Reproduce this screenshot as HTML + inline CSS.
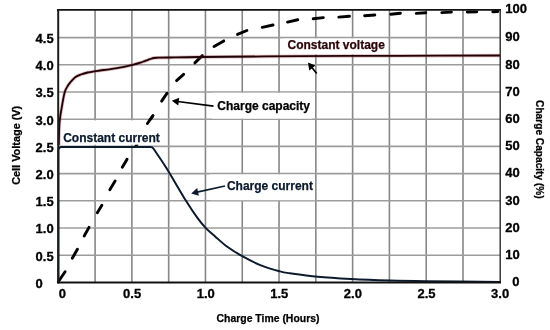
<!DOCTYPE html>
<html><head><meta charset="utf-8"><title>Charge characteristics</title>
<style>
html,body{margin:0;padding:0;background:#fff;width:550px;height:330px;overflow:hidden}
svg{display:block}
text{font-family:"Liberation Sans",Arial,sans-serif;font-weight:bold}
.ann{font-size:12px}
.tick text{font-size:13px;fill:#000;stroke:#000;stroke-width:0.3px}
.title{font-size:10.6px;fill:#000;stroke:#000;stroke-width:0.25px}
</style></head><body>
<svg width="550" height="330" viewBox="0 0 550 330"><g stroke="#878787" stroke-width="1.6" fill="none"><line x1="95.09" y1="10" x2="95.09" y2="282" /><line x1="131.88" y1="10" x2="131.88" y2="282" /><line x1="168.67" y1="10" x2="168.67" y2="282" /><line x1="205.46" y1="10" x2="205.46" y2="282" /><line x1="242.25" y1="10" x2="242.25" y2="282" /><line x1="279.04" y1="10" x2="279.04" y2="282" /><line x1="315.83" y1="10" x2="315.83" y2="282" /><line x1="352.62" y1="10" x2="352.62" y2="282" /><line x1="389.41" y1="10" x2="389.41" y2="282" /><line x1="426.20" y1="10" x2="426.20" y2="282" /><line x1="462.99" y1="10" x2="462.99" y2="282" /><line x1="58" y1="255.20" x2="500" y2="255.20" stroke="#9c9c9c" /><line x1="58" y1="228.00" x2="500" y2="228.00" stroke="#9c9c9c" /><line x1="58" y1="200.80" x2="500" y2="200.80" stroke="#9c9c9c" /><line x1="58" y1="173.60" x2="500" y2="173.60" stroke="#9c9c9c" /><line x1="58" y1="146.40" x2="500" y2="146.40" stroke="#9c9c9c" /><line x1="58" y1="119.20" x2="500" y2="119.20" stroke="#9c9c9c" /><line x1="58" y1="92.00" x2="500" y2="92.00" stroke="#9c9c9c" /><line x1="58" y1="64.80" x2="500" y2="64.80" stroke="#9c9c9c" /><line x1="58" y1="37.60" x2="500" y2="37.60" stroke="#9c9c9c" /></g>
<g stroke="#000" stroke-width="2.9" stroke-linecap="round"><line x1="58.3" y1="281.7" x2="65.10" y2="271.80" /><line x1="72.30" y1="258.16" x2="77.40" y2="249.34" /><line x1="84.19" y1="235.95" x2="89.01" y2="227.35" /><line x1="97.33" y1="212.68" x2="101.87" y2="205.22" /><line x1="109.82" y1="189.77" x2="115.08" y2="181.03" /><line x1="122.32" y1="167.27" x2="127.08" y2="159.33" /><line x1="135.82" y1="146.17" x2="140.38" y2="138.53" /><line x1="147.40" y1="123.52" x2="152.90" y2="115.78" /><line x1="161.59" y1="101.12" x2="167.11" y2="93.18" /><line x1="176.59" y1="80.60" x2="183.61" y2="74.30" /><line x1="194.86" y1="62.87" x2="202.34" y2="55.63" /><line x1="214.04" y1="46.41" x2="223.76" y2="40.89" /><line x1="237.51" y1="34.43" x2="246.89" y2="30.47" /><line x1="262.27" y1="27.34" x2="273.03" y2="24.96" /><line x1="287.57" y1="22.13" x2="297.73" y2="19.77" /><line x1="313.19" y1="18.77" x2="323.31" y2="17.63" /><line x1="338.80" y1="17.11" x2="349.50" y2="16.29" /><line x1="364.60" y1="15.71" x2="374.80" y2="14.99" /><line x1="390.70" y1="14.19" x2="400.40" y2="13.31" /><line x1="416.20" y1="13.33" x2="425.80" y2="12.77" /><line x1="441.80" y1="12.64" x2="451.40" y2="12.16" /><line x1="467.20" y1="12.07" x2="476.80" y2="11.83" /><line x1="492.80" y1="11.75" x2="497.80" y2="11.55" /></g>
<rect x="60" y="120.3" width="103" height="24.4" fill="#fff"/><rect x="283" y="38.5" width="104" height="16" fill="#fff"/><rect x="212" y="92.8" width="100" height="25.8" fill="#fff"/><rect x="210" y="174.4" width="105" height="25.8" fill="#fff"/>
<g stroke="#000" stroke-width="2.9" stroke-linecap="round"><line x1="147.40" y1="123.52" x2="152.90" y2="115.78" /></g>
<path d="M58.80,145.00 C58.88,141.83 59.07,130.67 59.30,126.00 C59.53,121.33 59.75,120.33 60.20,117.00 C60.65,113.67 61.43,109.33 62.00,106.00 C62.57,102.67 63.10,99.47 63.60,97.00 C64.10,94.53 64.38,92.93 65.00,91.20 C65.62,89.47 66.35,88.15 67.30,86.60 C68.25,85.05 69.33,83.48 70.70,81.90 C72.07,80.32 73.80,78.33 75.50,77.10 C77.20,75.87 78.87,75.27 80.90,74.50 C82.93,73.73 85.20,73.07 87.70,72.50 C90.20,71.93 93.85,71.43 95.90,71.10 C97.95,70.77 96.72,70.97 100.00,70.50 C103.28,70.03 110.17,69.25 115.60,68.30 C121.03,67.35 128.15,65.85 132.60,64.80 C137.05,63.75 139.40,62.93 142.30,62.00 C145.20,61.07 148.08,59.87 150.00,59.20 C151.92,58.53 152.47,58.25 153.80,58.00 C155.13,57.75 155.30,57.78 158.00,57.70 C160.70,57.62 163.00,57.62 170.00,57.50 C177.00,57.38 178.33,57.22 200.00,57.00 C221.67,56.78 266.67,56.40 300.00,56.20 C333.33,56.00 366.67,55.92 400.00,55.80 C433.33,55.68 483.33,55.55 500.00,55.50" fill="none" stroke="#b04050" stroke-opacity="0.35" stroke-width="3.4"/>
<path d="M58.80,145.00 C58.88,141.83 59.07,130.67 59.30,126.00 C59.53,121.33 59.75,120.33 60.20,117.00 C60.65,113.67 61.43,109.33 62.00,106.00 C62.57,102.67 63.10,99.47 63.60,97.00 C64.10,94.53 64.38,92.93 65.00,91.20 C65.62,89.47 66.35,88.15 67.30,86.60 C68.25,85.05 69.33,83.48 70.70,81.90 C72.07,80.32 73.80,78.33 75.50,77.10 C77.20,75.87 78.87,75.27 80.90,74.50 C82.93,73.73 85.20,73.07 87.70,72.50 C90.20,71.93 93.85,71.43 95.90,71.10 C97.95,70.77 96.72,70.97 100.00,70.50 C103.28,70.03 110.17,69.25 115.60,68.30 C121.03,67.35 128.15,65.85 132.60,64.80 C137.05,63.75 139.40,62.93 142.30,62.00 C145.20,61.07 148.08,59.87 150.00,59.20 C151.92,58.53 152.47,58.25 153.80,58.00 C155.13,57.75 155.30,57.78 158.00,57.70 C160.70,57.62 163.00,57.62 170.00,57.50 C177.00,57.38 178.33,57.22 200.00,57.00 C221.67,56.78 266.67,56.40 300.00,56.20 C333.33,56.00 366.67,55.92 400.00,55.80 C433.33,55.68 483.33,55.55 500.00,55.50" fill="none" stroke="#1e0306" stroke-width="1.8"/>
<path d="M58.4,282 L58.4,150 Q58.6,147 61.5,147 L150.5,147 Q152.5,147 153.6,148.8 C155.73,152.00 161.00,159.33 166.40,168.00 C171.80,176.67 180.80,192.43 186.00,200.80 C191.20,209.17 194.25,213.60 197.60,218.20 C200.95,222.80 203.10,225.28 206.10,228.40 C209.10,231.52 212.07,233.83 215.60,236.90 C219.13,239.97 222.93,243.63 227.30,246.80 C231.67,249.97 236.20,252.80 241.80,255.90 C247.40,259.00 254.53,262.82 260.90,265.40 C267.27,267.98 275.15,270.08 280.00,271.40 C284.85,272.72 283.73,272.40 290.00,273.30 C296.27,274.20 307.43,275.85 317.60,276.80 C327.77,277.75 338.93,278.38 351.00,279.00 C363.07,279.62 377.50,280.13 390.00,280.50 C402.50,280.87 407.67,280.95 426.00,281.20 C444.33,281.45 487.67,281.87 500.00,282.00" fill="none" stroke="#0b1a2c" stroke-width="2" stroke-linejoin="round"/>
<line x1="57" y1="9.8" x2="501" y2="9.8" stroke="#111" stroke-width="1.8"/>
<line x1="500.2" y1="9" x2="500.2" y2="283" stroke="#1a1a1a" stroke-width="1.3"/>
<line x1="58.2" y1="9" x2="58.2" y2="283.4" stroke="#1c1c1c" stroke-width="2"/>
<line x1="57.3" y1="282.4" x2="501" y2="282.4" stroke="#111" stroke-width="2"/>
<line x1="316.7" y1="73.5" x2="311.72" y2="67.21" stroke="#000" stroke-width="1.7"/><polygon points="308.00,62.50 315.40,65.57 309.28,70.41" fill="#000"/>
<line x1="213.5" y1="106.2" x2="177.75" y2="101.48" stroke="#000" stroke-width="1.7"/><polygon points="171.80,100.70 179.25,97.75 178.23,105.48" fill="#000"/>
<line x1="225" y1="186" x2="197.06" y2="192.12" stroke="#0b1a2c" stroke-width="1.7"/><polygon points="191.20,193.40 197.20,188.09 198.87,195.71" fill="#0b1a2c"/>
<text x="287.5" y="49.0" fill="#2a0609" stroke="#2a0609" stroke-width="0.25" class="ann">Constant voltage</text><text x="217.3" y="109.7" fill="#000" stroke="#000" stroke-width="0.25" class="ann">Charge capacity</text><text x="63.2" y="142" fill="#0b1a2c" stroke="#0b1a2c" stroke-width="0.25" class="ann">Constant current</text><text x="226.9" y="190" fill="#0b1a2c" stroke="#0b1a2c" stroke-width="0.25" class="ann">Charge current</text>
<g class="tick"><text x="35.6" y="287.70">0</text><text x="35.6" y="260.50">0.5</text><text x="35.6" y="233.30">1.0</text><text x="35.6" y="206.10">1.5</text><text x="35.6" y="178.90">2.0</text><text x="35.6" y="151.70">2.5</text><text x="35.6" y="124.50">3.0</text><text x="35.6" y="97.30">3.5</text><text x="35.6" y="70.10">4.0</text><text x="35.6" y="42.90">4.5</text><text x="512.3" y="286.10">0</text><text x="505.2" y="258.90">10</text><text x="505.2" y="231.70">20</text><text x="505.2" y="204.50">30</text><text x="505.2" y="177.30">40</text><text x="505.2" y="150.10">50</text><text x="505.2" y="122.90">60</text><text x="505.2" y="95.70">70</text><text x="505.2" y="68.50">80</text><text x="505.2" y="41.30">90</text><text x="505.2" y="13.20">100</text><text x="62.30" y="297.9" text-anchor="middle">0</text><text x="132.10" y="297.9" text-anchor="middle">0.5</text><text x="205.70" y="297.9" text-anchor="middle">1.0</text><text x="279.30" y="297.9" text-anchor="middle">1.5</text><text x="352.90" y="297.9" text-anchor="middle">2.0</text><text x="426.50" y="297.9" text-anchor="middle">2.5</text><text x="500.10" y="297.9" text-anchor="middle">3.0</text></g>
<text class="title" x="268" y="321.9" text-anchor="middle" textLength="103" lengthAdjust="spacingAndGlyphs">Charge Time (Hours)</text>
<text class="title" transform="translate(19.8,145.3) rotate(-90)" x="0" y="0" text-anchor="middle" textLength="79.1" lengthAdjust="spacingAndGlyphs">Cell Voltage (V)</text>
<text class="title" transform="translate(536.2,149.4) rotate(90)" x="0" y="0" text-anchor="middle" textLength="98.6" lengthAdjust="spacingAndGlyphs">Charge Capacity (%)</text></svg>
</body></html>
